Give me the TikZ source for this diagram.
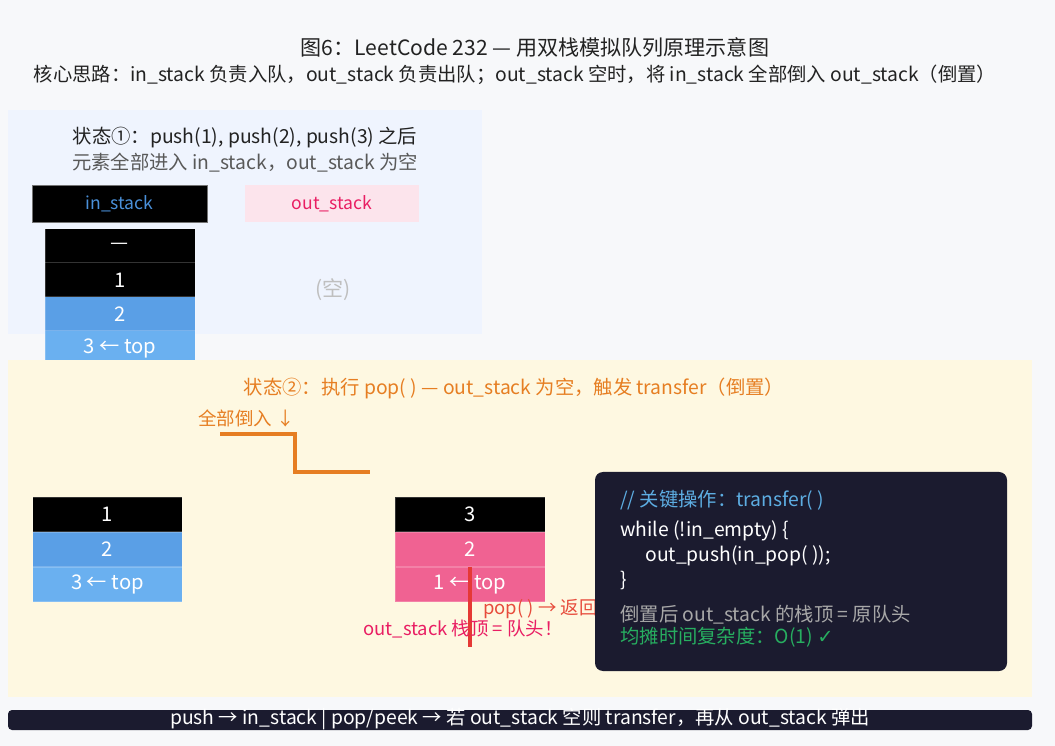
\documentclass[tikz,border=0pt]{standalone}
\usepackage{fontspec}
\setmainfont{Noto Sans CJK SC}
\newfontfamily\symfont{DejaVu Sans}
\usetikzlibrary{positioning}
\definecolor{pagebg}{HTML}{F7F8FA}
\definecolor{panelblue}{HTML}{EFF4FE}
\definecolor{panelcream}{HTML}{FEF8E1}
\definecolor{inblue}{HTML}{5A9FE6}
\definecolor{inlight}{HTML}{6AB0F0}
\definecolor{intext}{HTML}{4A90D9}
\definecolor{outpink}{HTML}{F06292}
\definecolor{outhead}{HTML}{FCE4EC}
\definecolor{pinktext}{HTML}{E91E63}
\definecolor{orangeline}{HTML}{E67E22}
\definecolor{redline}{HTML}{E53935}
\definecolor{redtext}{HTML}{E74C3C}
\definecolor{codebg}{HTML}{1B1B2F}
\definecolor{codeblue}{HTML}{5DADE2}
\definecolor{codegray}{HTML}{A8A8A8}
\definecolor{codegreen}{HTML}{27AE60}
\definecolor{titletext}{HTML}{222222}
\tikzset{
  txt/.style={
    inner sep = 0pt,
    font = \fontsize{11}{13}\selectfont
  },
  smalltxt/.style={
    txt,
    font = \fontsize{10.5}{12}\selectfont
  },
  cell/.style={
    shape = rectangle,
    inner sep = 0pt,
    minimum width = 3cm,
    minimum height = 0.69cm,
    draw = white,
    draw opacity = 0.2,
    line width = 0.4pt,
    text = white,
    font = \fontsize{11.5}{13}\selectfont
  },
  header/.style={
    shape = rectangle,
    inner sep = 0pt,
    minimum width = 3.5cm,
    minimum height = 0.74cm,
    font = \fontsize{10}{12}\selectfont
  },
  codeline/.style={
    txt,
    anchor = west,
    text = white
  }
}
\begin{document}
\begin{tikzpicture}[x=0.02cm, y=-0.02cm]
    \useasboundingbox[fill=pagebg] (0,0) rectangle (1055,746);
    % titles
    \node[txt, text=titletext, font=\fontsize{12}{14}\selectfont] (title) at (535,47) {图6：LeetCode 232 — 用双栈模拟队列原理示意图};
    \node[txt, text=titletext] (idea) at (515,75) {核心思路：in\_stack 负责入队，out\_stack 负责出队；out\_stack 空时，将 in\_stack 全部倒入 out\_stack（倒置）};
    % state 1
    \fill[panelblue] (8,110) rectangle (482,334);
    \node[txt, text=titletext] (s1a) at (245,138) {状态①：push(1), push(2), push(3) 之后};
    \node[txt, text=black!65] (s1b) at (245,163) {元素全部进入 in\_stack，out\_stack 为空};
    \node[header, fill=black, draw=black!55, text=intext] (inhead) at (119.5,203.5) {in\_stack};
    \node[header, fill=outhead, text=pinktext] (outhead) at (332,203.5) {out\_stack};
    \foreach \lab/\col/\y [count=\i] in {{—}/black/246, 1/black/280, 2/inblue/314, {3 ← top}/inlight/348}{
        \node[cell, fill=\col] (ina\i) at (120,\y) {\lab};
    }
    \node[txt, text=black!25, font=\fontsize{12}{14}\selectfont] (empty) at (333,290) {(空)};
    % state 2
    \fill[panelcream] (8,360) rectangle (1032,697);
    \node[txt, text=orangeline] (s2) at (514,388) {状态②：执行 pop( ) — out\_stack 为空，触发 transfer（倒置）};
    \node[smalltxt, text=orangeline, anchor=west] (pour) at (198,418) {全部倒入 ↓};
    \coordinate (dropA) at (220,434);
    \coordinate (dropM) at (295,453);
    \coordinate (dropB) at (370,472);
    \draw[orangeline, line width=2pt] (dropA) -| (dropM) |- (dropB);
    \foreach \lab/\col/\y [count=\i] in {1/black/514.5, 2/inblue/549.5, {3 ← top}/inlight/584.5}{
        \node[cell, fill=\col] (inb\i) at (107.5,\y) {\lab};
    }
    \foreach \lab/\col/\y [count=\i] in {3/black/514.5, 2/outpink/549.5, {1 ← top}/outpink/584.5}{
        \node[cell, fill=\col] (outb\i) at (470,\y) {\lab};
    }
    \coordinate (popend) at (470,647);
    \draw[redline, line width=2pt] (outb3.north) -- (popend);
    \node[smalltxt, text=redtext, anchor=west] (popret) at (483,609) {pop( ) → 返回 1};
    \node[smalltxt, text=pinktext] (head) at (463,629) {out\_stack 栈顶 = 队头！};
    % code box
    \fill[codebg, rounded corners=0.16cm] (595,472) rectangle (1007,671);
    \node[codeline, text=codeblue] (c1) at (620,500) {// 关键操作：transfer( )};
    \node[codeline] (c2) at (620,531) {while (!in\_empty) \{};
    \node[codeline] (c3) at (645,556) {out\_push(in\_pop( ));};
    \node[codeline] (c4) at (620,580) {\}};
    \node[codeline, text=codegray] (c5) at (620,615) {倒置后 out\_stack 的栈顶 = 原队头};
    \node[codeline, text=codegreen] (c6) at (620,637) {均摊时间复杂度：O(1) {\symfont ✓}};
    % bottom bar
    \fill[codebg, rounded corners=0.08cm] (8,710) rectangle (1032,730);
    \node[txt, text=white] (summary) at (520,719) {push → in\_stack | pop/peek → 若 out\_stack 空则 transfer，再从 out\_stack 弹出};
\end{tikzpicture}
\end{document}
